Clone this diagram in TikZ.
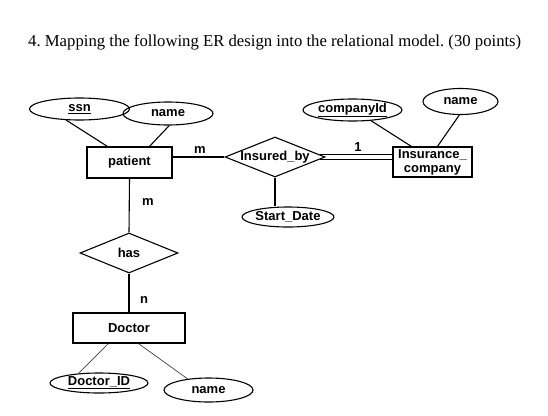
\documentclass[tikz,border=0pt]{standalone}
\usepackage{fontspec}
\setmainfont{Liberation Serif}
\newfontfamily\erfont{Liberation Sans}
\usetikzlibrary{shapes.geometric,calc}
\frenchspacing
\tikzset{
  erbase/.style={font=\erfont\bfseries\fontsize{13}{14}\selectfont, inner sep=0pt},
  entity/.style={erbase, draw, line width=1.1pt, rectangle, align=center},
  attr/.style={erbase, draw, line width=1.1pt, ellipse},
  rel/.style={erbase, draw, line width=1.1pt, diamond, aspect=2.5},
  conn/.style={line width=1.1pt},
  thinconn/.style={line width=0.7pt, draw=black!75},
  card/.style={erbase}
}
\begin{document}
\begin{tikzpicture}[x=1pt,y=-1pt]
\useasboundingbox (0,0) rectangle (548,415);
\node[anchor=base west, inner sep=0pt, font=\fontsize{16.7}{18}\selectfont] (title) at (28,46) {4. Mapping the following ER design into the relational model. (30 points)};

% entities
\node[entity, minimum width=85pt, minimum height=31pt] (pat) at (129.5,162.5) {patient};
\node[entity, minimum width=79pt, minimum height=30pt] (ic) at (432.5,162) {Insurance\_\\company};
\node[entity, minimum width=112pt, minimum height=30pt] (doc) at (129,328) {Doctor};

% relationships
\node[rel, minimum width=100pt, minimum height=40pt] (ins) at (275,157) {Insured\_by};
\node[rel, minimum width=98pt, minimum height=40pt] (has) at (129,253) {has};

% attributes
\node[attr, minimum width=100pt, minimum height=22pt] (ssn) at (79.5,109) {\underline{ssn}};
\node[attr, minimum width=90pt, minimum height=23pt] (pname) at (168,113.5) {name};
\node[attr, minimum width=99pt, minimum height=22pt] (cid) at (352.5,110) {\underline{companyId}};
\node[attr, minimum width=75pt, minimum height=26pt] (cname) at (460.5,101.5) {name};
\node[attr, minimum width=88pt, minimum height=20pt] (sd) at (288,217) {Start\_Date};
\node[attr, minimum width=98pt, minimum height=20pt] (did) at (99,383) {\underline{Doctor\_ID}};
\node[attr, minimum width=89pt, minimum height=24pt] (dname) at (208.5,390) {name};

% connectors
\draw[conn] (ssn.220) -- ([xshift=21pt]pat.north west);
\draw[conn] (pname.276) -- ([xshift=63pt]pat.north west);
\draw[conn] (cid.330) -- ([xshift=19pt]ic.north west);
\draw[conn] (cname.265) -- ([xshift=45pt]ic.north west);
\draw[conn] (ins.west) -- (ins.west -| pat.east);
\draw[conn] (ins.3.3) -- (ins.3.3 -| ic.west);
\draw[conn] (ins.-3.3) -- (ins.-3.3 -| ic.west);
\draw[conn] (ins.south) -- (ins.south |- sd.north);
\draw[conn] (pat.south) -- (has.north);
\draw[conn] (has.south) -- (doc.north);
\draw[thinconn] ([xshift=36pt]doc.south west) -- (did.155);
\draw[thinconn] ([xshift=66pt]doc.south west) -- (dname.152);

% cardinalities
\node[card] (c1) at (200,150) {m};
\node[card] (c2) at (358,147) {1};
\node[card] (c3) at (148,202) {m};
\node[card] (c4) at (144,300) {n};
\end{tikzpicture}
\end{document}
